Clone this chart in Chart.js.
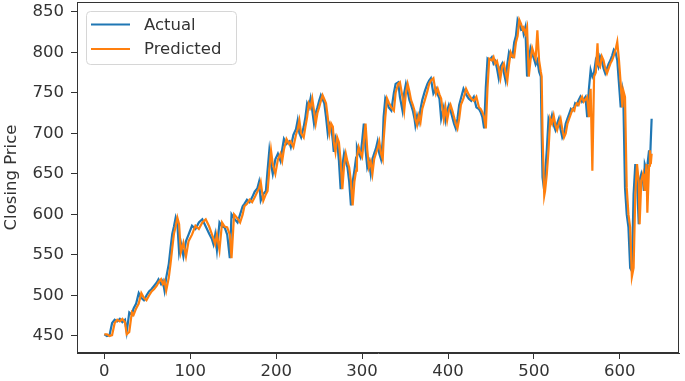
<!DOCTYPE html>
<html>
<head>
<meta charset="utf-8">
<script src="https://cdn.jsdelivr.net/npm/chart.js@4.4.1/dist/chart.umd.min.js"></script>
<style>
    html, body { margin: 0; padding: 0; background: #ffffff; }
    #wrap { width: 685px; height: 381px; position: relative; }
</style>
</head>
<body>
<div id="wrap"><canvas id="priceChart"></canvas></div>
<script>
// values: [day index, closing price]
const actualPts = [
    [0,452],[3,450],[6,451],[9,466],[12,470],[15,468],[18,471],[21,467],[24,470],[26,455],[29,479],[32,476],[34,484],[37,490],[40,503],[43,497],[46,494],[49,500],[52,505],[55,508],[58,512],[61,516],[63,520],[66,514],[68,518],[70,506],[72,522],[75,539],[77,558],[79,576],[81,585],[83,596],[85,588],[87,553],[89,565],[92,548],[95,567],[98,575],[102,586],[106,582],[110,590],[114,594],[118,585],[122,576],[125,570],[127,563],[129,575],[131,556],[134,590],[137,585],[140,584],[143,575],[146,546],[148,600],[151,595],[155,590],
    [158,600],[161,610],[163,613],[166,618],[169,615],[172,621],[175,628],[178,632],[180,640],[182,617],[185,625],[188,629],[190,655],[192,679],[194,662],[196,650],[199,668],[202,675],[205,666],[207,680],[209,693],[212,687],[215,690],[217,683],[220,698],[223,705],[225,716],[227,700],[229,695],[232,708],[234,720],[236,737],[238,732],[240,743],[242,728],[244,712],[246,725],[248,732],[250,740],[252,747],[254,742],[256,737],[258,720],[260,700],[262,712],[264,708],[266,690],[267,677],[269,695],[271,689],[273,666],[275,631],[277,660],[279,675],[281,665],[283,658],[285,640],[287,611],[289,640],[291,654],[293,670],[294,683],[296,676],[298,671],[300,690],[302,712],[304,680],[306,658],[308,665],[310,650],[312,668],[314,675],[316,681],[318,690],[320,675],[322,668],[324,691],
    [325,720],[327,743],[329,738],[331,732],[334,728],[337,750],[339,761],[342,763],[344,745],[347,728],[349,750],[351,761],[353,752],[355,741],[357,735],[359,728],[361,718],[362,710],[364,722],[366,714],[368,730],[370,741],[373,752],[376,761],[378,765],[380,768],[383,749],[386,755],[388,748],[390,743],[392,718],[395,732],[397,716],[399,728],[401,735],[403,728],[405,720],[407,712],[409,706],[411,718],[413,735],[415,743],[418,755],[421,748],[424,743],[427,740],[430,745],[433,732],[436,730],[438,726],[440,720],[442,706],[444,757],[446,792],[448,790],[451,794],[453,786],[455,789],[457,780],[459,768],[461,782],[463,786],[465,775],[467,765],[469,785],[471,800],[473,795],[475,794],[477,812],[479,820],[481,840],[483,835],[485,828],[487,830],[488,823],[490,831],[492,770],[494,790],[496,805],[498,798],[500,792],[502,785],[504,790],[506,776],[508,770],[509,700],[510,646],[512,629],[513,650],[515,680],
    [517,718],[519,712],[521,722],[523,710],[525,704],[527,712],[529,718],[531,705],[533,695],[535,700],[537,712],[539,718],[541,724],[543,730],[545,728],[547,733],[548,737],[550,735],[552,741],[554,745],[556,739],[558,742],[560,745],[562,720],[564,755],[566,778],[568,770],[570,775],[572,790],[574,785],[575,782],[577,795],[579,790],[581,780],[583,774],[585,780],[587,786],[589,790],[591,796],[593,803],[595,800],[597,790],[599,761],[601,732],[603,753],[604,745],[606,633],[608,600],[610,584],[612,534],[614,530],[616,625],[618,662],[620,640],[622,588],[623,642],[625,650],[627,640],[628,629],[629,662],[631,655],[632,660],[634,679],[635,662],[636,691],[637,718]
];

const predictedPts = [
    [0,452],[3,452],[6,450],[9,451],[12,466],[15,470],[18,468],[21,471],[24,467],[26,452],[29,455],[32,479],[34,476],[37,484],[40,490],[43,503],[46,497],[49,494],[52,500],[55,505],[58,508],[61,512],[63,516],[66,520],[68,514],[70,518],[72,506],[75,522],[77,539],[79,558],[81,576],[83,585],[85,596],[87,588],[89,553],[92,565],[95,548],[98,567],[102,575],[106,586],[110,582],[114,590],[118,594],[122,585],[125,576],[127,570],[129,563],[131,575],[134,556],[137,590],[140,585],[143,584],[146,575],[148,546],[151,600],[155,595],
    [158,590],[161,600],[163,610],[166,613],[169,618],[172,615],[175,621],[178,628],[180,632],[182,640],[185,617],[188,625],[190,629],[192,655],[194,679],[196,662],[199,650],[202,668],[205,675],[207,666],[209,680],[212,693],[215,687],[217,690],[220,683],[223,698],[225,705],[227,716],[229,700],[232,695],[234,708],[236,720],[238,737],[240,732],[242,743],[244,728],[246,712],[248,725],[250,732],[252,740],[254,747],[256,742],[258,737],[260,720],[262,700],[264,712],[266,708],[267,690],[269,677],[271,695],[273,689],[275,666],[277,631],[279,660],[281,675],[283,665],[285,658],[287,640],[289,611],[291,640],[293,654],[294,670],[296,683],[298,676],[300,671],[302,690],[304,712],[306,680],[308,658],[310,665],[312,650],[314,668],[316,675],[318,681],[320,690],[322,675],[324,668],
    [325,691],[327,720],[329,743],[331,738],[334,732],[337,728],[339,750],[342,761],[344,763],[347,745],[349,728],[351,750],[353,761],[355,752],[357,741],[359,735],[361,728],[362,718],[364,710],[366,722],[368,714],[370,730],[373,741],[376,752],[378,761],[380,765],[383,768],[386,749],[388,755],[390,748],[392,743],[395,718],[397,732],[399,716],[401,728],[403,735],[405,728],[407,720],[409,712],[411,706],[413,718],[415,735],[418,743],[421,755],[424,748],[427,743],[430,740],[433,745],[436,732],[438,730],[440,726],[442,720],[444,706],[446,757],[448,792],[451,790],[453,794],[455,786],[457,789],[459,780],[461,768],[463,782],[465,786],[467,775],[469,765],[471,785],[473,800],[475,795],[477,794],[479,812],[481,820],[483,840],[485,835],[487,828],[488,830],[490,823],[492,831],[494,770],[496,790],[498,805],[500,798],[502,792],[504,827],[506,790],[508,776],[509,770],[510,700],[512,623],[513,629],[515,650],
    [517,680],[519,718],[521,712],[523,722],[525,710],[527,704],[529,712],[531,718],[533,705],[535,695],[537,700],[539,712],[541,718],[543,724],[545,730],[547,728],[548,733],[550,737],[552,735],[554,741],[556,745],[558,739],[560,742],[562,745],[564,720],[566,755],[568,654],[570,770],[572,775],[574,811],[575,785],[577,782],[579,795],[581,790],[583,780],[585,774],[587,780],[589,786],[591,790],[593,796],[595,803],[597,813],[599,790],[601,761],[603,732],[604,753],[606,745],[608,633],[610,600],[612,584],[614,523],[616,534],[618,625],[620,662],[622,640],[623,588],[625,642],[627,650],[628,640],[629,629],[631,662],[632,602],[634,660],[635,679],[636,662],[637,675]
];

const xTicks = [0, 100, 200, 300, 400, 500, 600];
const yTicks = [450, 500, 550, 600, 650, 700, 750, 800, 850];
const seriesNames = ['Actual', 'Predicted'];
const seriesColors = ['#1f77b4', '#ff7f0e'];

const FONT = 'DejaVu Sans';
const TEXT = '#333333';
const AXIS = '#333333';

// box round the plot (matplotlib spines) + the legend in its upper-left corner
const framePlugin = {
    id: 'frame',
    afterDatasetsDraw(chart) {
        const { ctx, chartArea: a } = chart;
        ctx.save();
        ctx.strokeStyle = AXIS;
        ctx.lineWidth = 1;
        ctx.strokeRect(a.left + 0.5, a.top + 0.5, a.right - a.left - 1, a.bottom - a.top - 1);

        // legend
        const bx = a.left + 9, by = a.top + 9, bw = 150, bh = 53;
        ctx.fillStyle = 'rgba(255,255,255,0.8)';
        ctx.strokeStyle = '#d6d6d6';
        ctx.beginPath();
        ctx.roundRect(bx + 0.5, by + 0.5, bw, bh, 4);
        ctx.fill();
        ctx.stroke();
        ctx.font = '16.5px "' + FONT + '"';
        ctx.textBaseline = 'middle';
        chart.data.datasets.forEach((ds, i) => {
            const ly = by + 13.5 + i * 24.5;
            ctx.strokeStyle = ds.borderColor;
            ctx.lineWidth = 2.2;
            ctx.beginPath();
            ctx.moveTo(bx + 5, ly);
            ctx.lineTo(bx + 44, ly);
            ctx.stroke();
            ctx.fillStyle = TEXT;
            ctx.fillText(ds.label, bx + 58, ly + 1);
        });
        ctx.restore();
    }
};

function toXY(pts) {
    return pts.map(p => ({ x: p[0], y: p[1] }));
}

// fixed axis sizes, and no extra room kept for the end labels
function fixBox(size, horizontal) {
    return function(s) {
        if (horizontal) s.height = size; else s.width = size;
        s.paddingTop = 0;
        s.paddingBottom = 0;
        s.paddingLeft = 0;
        s.paddingRight = 0;
    };
}

document.addEventListener('DOMContentLoaded', function() {
    const ctx = document.getElementById('priceChart').getContext('2d');
    new Chart(ctx, {
        type: 'line',
        data: {
            datasets: [{
                label: seriesNames[0],
                data: toXY(actualPts),
                borderColor: seriesColors[0],
                backgroundColor: seriesColors[0],
                borderWidth: 2.2,
                pointRadius: 0,
                tension: 0,
                order: 2
            }, {
                label: seriesNames[1],
                data: toXY(predictedPts),
                borderColor: seriesColors[1],
                backgroundColor: seriesColors[1],
                borderWidth: 2.2,
                pointRadius: 0,
                tension: 0,
                order: 1
            }]
        },
        options: {
            responsive: true,
            maintainAspectRatio: false,
            animation: false,
            layout: { padding: { top: 2, right: 6, left: 0, bottom: 0 } },
            scales: {
                x: {
                    type: 'linear',
                    min: -31.85,
                    max: 668.85,
                    afterBuildTicks: s => { s.ticks = xTicks.map(v => ({ value: v })); },
                    afterFit: fixBox(28, true),
                    grid: { display: true, drawOnChartArea: false, drawTicks: true, tickLength: 6, tickColor: AXIS },
                    border: { display: true, color: AXIS },
                    ticks: { color: TEXT, padding: 3, maxRotation: 0, font: { family: FONT, size: 16.5 } }
                },
                y: {
                    type: 'linear',
                    min: 429,
                    max: 862,
                    afterBuildTicks: s => { s.ticks = yTicks.map(v => ({ value: v })); },
                    afterFit: fixBox(77, false),
                    grid: { display: true, drawOnChartArea: false, drawTicks: true, tickLength: 6, tickColor: AXIS },
                    border: { display: true, color: AXIS },
                    ticks: { color: TEXT, padding: 7, font: { family: FONT, size: 16.5 } },
                    title: {
                        display: true,
                        text: 'Closing Price',
                        color: TEXT,
                        padding: { top: 2, bottom: 0 },
                        font: { family: FONT, size: 16.5 }
                    }
                }
            },
            plugins: {
                legend: { display: false },
                tooltip: { enabled: false }
            }
        },
        plugins: [framePlugin]
    });
});
</script>
</body>
</html>
